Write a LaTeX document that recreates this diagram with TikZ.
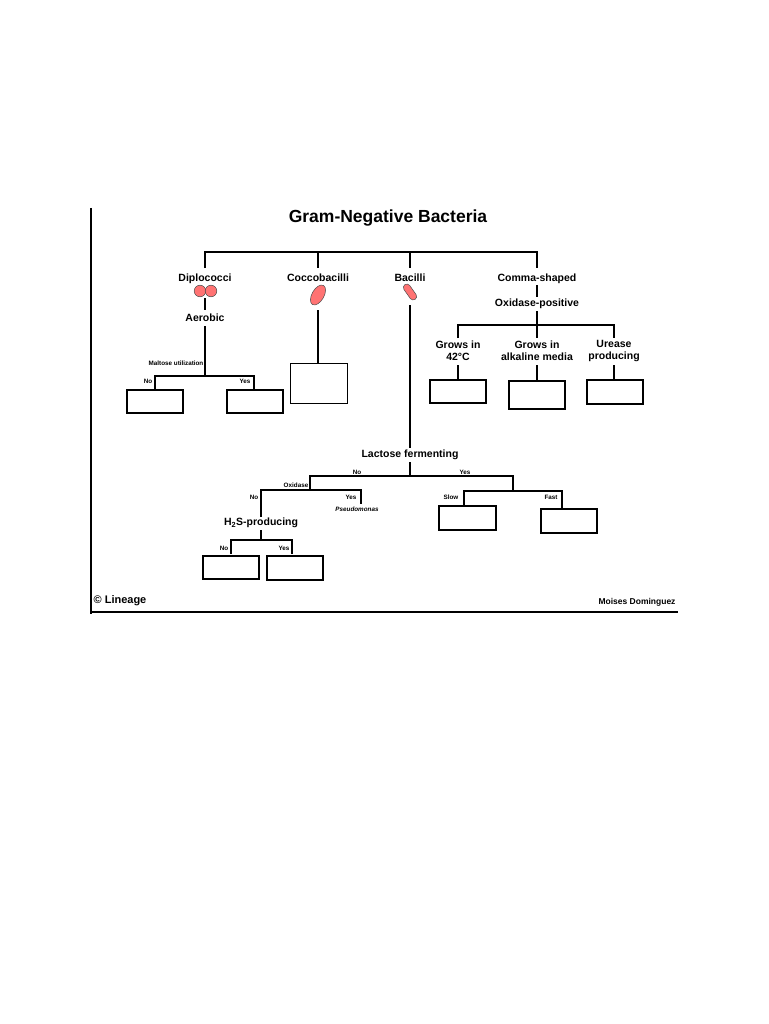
\documentclass[tikz,border=0pt]{standalone}
\usepackage{fontspec}
\setmainfont{Liberation Sans}
\begin{document}
\begin{tikzpicture}[x=1pt,y=-1pt,
  bar/.style={line width=2.6pt},
  bx/.style={draw,line width=1.3pt},
  lbl/.style={font=\bfseries\fontsize{10.5}{12}\selectfont,inner sep=0pt,align=center},
  sm/.style={font=\bfseries\fontsize{6.3}{7}\selectfont,inner sep=0pt},
  cell/.style={draw=black!70,fill=red!55!white,line width=0.5pt}]
\useasboundingbox (0,0) rectangle (768,1024);
% frame
\draw[line width=1.2pt] (91,208) -- (91,614);
\draw[line width=1.2pt] (91,612) -- (678,612);
\node[font=\bfseries\fontsize{17.5}{20}\selectfont] (title) at (388,218) {Gram-Negative Bacteria};
% top bar
\draw[bar] (205,268) -- (205,252) -- (537,252) -- (537,268);
\draw[bar] (318,252) -- (318,268);
\draw[bar] (410,252) -- (410,268);
\node[lbl,anchor=base] (dip) at (205,281) {Diplococci};
\node[lbl,anchor=base] (coc) at (318,281) {Coccobacilli};
\node[lbl,anchor=base] (bac) at (410,281) {Bacilli};
\node[lbl,anchor=base] (com) at (537,281) {Comma-shaped};
% diplococci
\draw[cell] (200,291) circle (5.8);
\draw[cell] (211,291) circle (5.8);
\node[lbl] (aer) at (205,318) {Aerobic};
\coordinate (a1) at (205,298);
\coordinate (a2) at (205,310);
\coordinate (a3) at (205,326);
\coordinate (mbar) at (205,376);
\draw[bar] (a1) -- (a2);
\draw[bar] (a3) -- (mbar);
\node[sm] (mal) at (176,363) {Maltose utilization};
\draw[bar] (155,390) -- (155,376) -- (254,376) -- (254,390);
\node[sm] (no1) at (148,381) {No};
\node[sm] (yes1) at (245,381) {Yes};
\node[bx,minimum width=56pt,minimum height=23pt] (b1) at (155,401.5) {};
\node[bx,minimum width=56pt,minimum height=23pt] (b2) at (255,401.5) {};
% coccobacilli
\draw[cell,rotate around={60:(318,295)}] (318,295) ellipse (11 and 6);
\node[bx,minimum width=57pt,minimum height=40pt,line width=1pt] (b3) at (318.5,383) {};
\coordinate (c1) at (318,310);
\coordinate (c2) at (318,363);
\draw[bar] (c1) -- (c2);
% bacilli
\draw[cell,rotate around={-55:(410,292)},rounded corners=3.5pt] (401,288.5) rectangle (419,295.5);
\node[lbl] (lac) at (410,455) {Lactose fermenting};
\coordinate (l1) at (410,305);
\coordinate (l2) at (410,448);
\coordinate (l3) at (410,462);
\coordinate (l4) at (410,476);
\draw[bar] (l1) -- (l2);
% comma
\node[lbl] (oxp) at (537,304) {Oxidase-positive};
\draw[bar] (537,285) -- (537,297);
\draw[bar] (537,311) -- (537,325);
\draw[bar] (458,338) -- (458,325) -- (614,325) -- (614,338);
\draw[bar] (537,325) -- (537,338);
\node[lbl] (g42) at (458,351) {Grows in\\42°C};
\node[lbl] (gal) at (537,351) {Grows in\\alkaline media};
\node[lbl] (ure) at (614,351) {Urease\\producing};
\node[bx,minimum width=56pt,minimum height=23pt] (b4) at (458,391.5) {};
\node[bx,minimum width=56pt,minimum height=28pt] (b5) at (537,395) {};
\node[bx,minimum width=56pt,minimum height=24pt] (b6) at (615,392) {};
\draw[bar] (458,365) -- (458,380);
\draw[bar] (537,365) -- (537,381);
\draw[bar] (614,365) -- (614,380);
% lactose
\draw[bar] (l3) -- (l4);
\draw[bar] (310,490) -- (310,476) -- (513,476) -- (513,491);
\node[sm] (lno) at (357,472) {No};
\node[sm] (lyes) at (465,472) {Yes};
\node[sm] (oxi) at (296,485) {Oxidase};
\draw[bar] (261,517) -- (261,490) -- (361,490) -- (361,504);
\node[sm] (ono) at (254,497) {No};
\node[sm] (oyes) at (351,497) {Yes};
\node[font=\bfseries\itshape\fontsize{6.3}{7}\selectfont,inner sep=0pt] (pse) at (357,509) {Pseudomonas};
\node[lbl] (h2s) at (261,523) {H\textsubscript{2}S-producing};
\draw[bar] (261,530) -- (261,540);
\draw[bar] (231,554) -- (231,540) -- (292,540) -- (292,554);
\node[sm] (hno) at (224,548) {No};
\node[sm] (hyes) at (284,548) {Yes};
\node[bx,minimum width=56pt,minimum height=23pt] (b7) at (231,567.5) {};
\node[bx,minimum width=56pt,minimum height=24pt] (b8) at (295,568) {};
\draw[bar] (464,506) -- (464,491) -- (562,491) -- (562,509);
\node[sm] (slow) at (451,497) {Slow};
\node[sm] (fast) at (551,497) {Fast};
\node[bx,minimum width=57pt,minimum height=24pt] (b9) at (467.5,518) {};
\node[bx,minimum width=56pt,minimum height=24pt] (b10) at (569,521) {};
% footer
\node[font=\bfseries\fontsize{11}{12}\selectfont,inner sep=0pt] (lin) at (120,601) {© Lineage};
\node[font=\bfseries\fontsize{8.5}{9}\selectfont,inner sep=0pt] (moi) at (637,602) {Moises Dominguez};
\end{tikzpicture}
\end{document}
